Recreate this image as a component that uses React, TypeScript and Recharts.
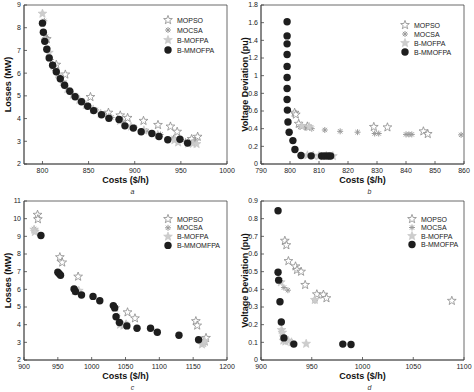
import React from 'react';
import { ScatterChart, Scatter, XAxis, YAxis, ReferenceArea, Legend, Label } from 'recharts';

// ---------- data: [cost, value] ----------
const aMOPSO = [[804.7, 7.5], [815, 6.37], [824.8, 5.94], [852, 4.95], [871.5, 4.26], [884.3, 4.14], [892.3, 4.03], [909.5, 3.9], [925.2, 3.72], [938.7, 3.65], [946, 3.42], [961.7, 3.1], [968.2, 3.2]];
const aMOCSA = [[802, 8.3], [804, 7.6], [806, 7.1], [809, 6.6], [813, 6.2], [818, 5.85], [823, 5.55], [829, 5.25], [836, 5.0], [843, 4.78], [850, 4.58], [858, 4.38], [866, 4.2], [875, 4.05], [887, 3.85], [900, 3.62], [913, 3.45], [928, 3.3], [942, 3.15], [955, 3.0], [962, 2.95], [966, 3.05]];
const aBMOFPA = [[800, 8.62], [803, 7.45], [807, 6.9], [812, 6.3], [817, 5.95], [822, 5.6], [827, 5.3], [833, 5.05], [840, 4.82], [847, 4.6], [855, 4.4], [863, 4.22], [872, 4.05], [884, 3.9], [896, 3.65], [910, 3.48], [925, 3.28], [943, 3.05], [947, 2.95], [958, 2.9], [963, 2.9], [967, 2.88]];
const aBMMOFPA = [[800, 8.2], [801, 7.8], [802.5, 7.4], [804.7, 7.05], [807.3, 6.67], [811, 6.35], [815, 6.06], [819.3, 5.75], [824, 5.47], [829.6, 5.2], [835.4, 4.96], [842.3, 4.74], [849, 4.54], [855.5, 4.35], [864, 4.17], [872, 4.01], [883, 3.96], [889.4, 3.68], [898.5, 3.58], [907, 3.42], [918.6, 3.34], [926.3, 3.21], [935.8, 3.07], [949, 3.09], [957.3, 2.92]];

const bMOPSO = [[801.6, 0.58], [802, 0.56], [803, 0.455], [806, 0.425], [828.9, 0.42], [833.6, 0.415], [846, 0.37], [847.5, 0.34]];
const bMOCSA = [[803.5, 0.42], [805.5, 0.41], [807.5, 0.4], [812, 0.385], [817.3, 0.37], [823.3, 0.36], [829.2, 0.345], [830.6, 0.345], [840, 0.335], [841, 0.335], [842, 0.335], [859, 0.33]];
const bBMOFPA = [[804, 0.43], [806.6, 0.42], [806, 0.098], [808, 0.095], [810, 0.09], [812.5, 0.092], [814.8, 0.09]];
const bBMMOFPA = [[799, 1.61], [799, 1.45], [799, 1.36], [799, 1.24], [799, 1.105], [799, 0.98], [799, 0.855], [799, 0.73], [799.1, 0.61], [799.3, 0.475], [799.7, 0.36], [801, 0.265], [801.7, 0.165], [803.8, 0.097], [807.3, 0.092], [810.9, 0.09], [812, 0.09], [813.1, 0.09], [814, 0.09]];

const cMOPSO = [[920, 10.22], [920.5, 9.97], [953, 7.82], [956.5, 7.52], [980, 6.72], [1053, 4.7], [1064, 4.36], [1154, 4.2], [1156, 3.95], [1167, 3.05], [1169, 3.25]];
const cMOCSA = [[915, 9.42], [917, 9.35], [978, 5.95], [1036, 5.0], [1038, 4.5], [1044, 4.0], [1050, 4.05], [1052, 3.95], [1165, 2.98]];
const cBMOFPA = [[915, 9.38], [916, 9.25], [975, 5.9], [981, 5.92], [1035, 4.95], [1042, 4.0], [1047, 3.95], [1051, 4.02], [1163, 2.88], [1165, 2.95], [1167, 3.05]];
const cBMMOFPA = [[925, 9.05], [950, 6.97], [952, 6.88], [954, 6.8], [974, 6.02], [976, 5.88], [985, 5.68], [1002, 5.6], [1012, 5.35], [1032, 5.08], [1034, 4.95], [1036, 4.45], [1041, 4.12], [1052, 3.93], [1067, 3.8], [1087, 3.8], [1097, 3.57], [1129, 3.4], [1158, 3.15]];

const dMOPSO = [[923.5, 0.675], [925, 0.65], [927, 0.56], [934, 0.53], [935.5, 0.51], [939.5, 0.5], [943.5, 0.425], [955, 0.372], [961.5, 0.37], [964.5, 0.35], [1088, 0.335]];
const dMOCSA = [[918.7, 0.45], [922.6, 0.41], [926.5, 0.395], [953.2, 0.335]];
const dBMOFPA = [[919.5, 0.44], [920.3, 0.17], [921, 0.155], [922, 0.11], [924, 0.105], [927, 0.108], [930, 0.1], [944.5, 0.092], [953, 0.34]];
const dBMMOFPA = [[916.8, 0.845], [916.8, 0.497], [917.4, 0.452], [918.7, 0.33], [920, 0.215], [922.6, 0.125], [932.3, 0.09], [980.6, 0.09], [988.7, 0.088]];

const aXTicks = [800, 850, 900, 950, 1000];
const aYTicks = [2, 3, 4, 5, 6, 7, 8, 9];
const bXTicks = [790, 800, 810, 820, 830, 840, 850, 860];
const bYTicks = [0, 0.2, 0.4, 0.6, 0.8, 1, 1.2, 1.4, 1.6, 1.8];
const cXTicks = [900, 950, 1000, 1050, 1100, 1150, 1200];
const cYTicks = [2, 3, 4, 5, 6, 7, 8, 9, 10, 11];
const dXTicks = [900, 950, 1000, 1050, 1100];
const dYTicks = [0, 0.1, 0.2, 0.3, 0.4, 0.5, 0.6, 0.7, 0.8, 0.9];

const FONT = '"Liberation Sans", Arial, Helvetica, sans-serif';

const toPts = (arr: number[][]) => arr.map(([x, y]) => ({ x, y }));

// ---------- marker shapes ----------
const starPath = (cx: number, cy: number, R: number, r: number) => {
  let d = '';
  for (let i = 0; i < 10; i++) {
    const ang = -Math.PI / 2 + (i * Math.PI) / 5;
    const rad = i % 2 === 0 ? R : r;
    d += (i === 0 ? 'M' : 'L') + (cx + rad * Math.cos(ang)).toFixed(2) + ',' + (cy + rad * Math.sin(ang)).toFixed(2);
  }
  return d + 'Z';
};
const HollowStar = ({ cx, cy }: any) => <path d={starPath(cx, cy, 4.6, 1.9)} fill="#fff" stroke="#8a8a8a" strokeWidth={0.8} />;
const GrayStar = ({ cx, cy }: any) => <path d={starPath(cx, cy, 4.6, 2.0)} fill="#cdcdcd" stroke="#c2c2c2" strokeWidth={0.6} />;
const Asterisk = ({ cx, cy }: any) => {
  const r = 3;
  const d = r * 0.707;
  return (
    <g stroke="#9a9a9a" strokeWidth={1}>
      <line x1={cx - r} y1={cy} x2={cx + r} y2={cy} />
      <line x1={cx} y1={cy - r} x2={cx} y2={cy + r} />
      <line x1={cx - d} y1={cy - d} x2={cx + d} y2={cy + d} />
      <line x1={cx - d} y1={cy + d} x2={cx + d} y2={cy - d} />
    </g>
  );
};
const Dot = ({ cx, cy }: any) => <circle cx={cx} cy={cy} r={3.7} fill="#1e1e1e" />;

const SHAPES = [HollowStar, Asterisk, GrayStar, Dot];

type PanelProps = {
  left: number;
  top: number;
  xDomain: [number, number];
  yDomain: [number, number];
  xTicks: number[];
  yTicks: number[];
  yLabel: string;
  letter: string;
  series: number[][][];
  names: string[];
  legend: { x: number; y: number; row: number };
};

function Panel(p: PanelProps) {
  const LegendBox = () => (
    <svg width={80} height={48} style={{ display: 'block', overflow: 'visible' }}>
      {p.names.map((n, i) => {
        const S = SHAPES[i];
        const y = 5 + i * p.legend.row;
        return (
          <g key={n}>
            <S cx={5} cy={y} />
            <text x={14} y={y + 2.5} fontSize={7} fontFamily={FONT} fill="#222">{n}</text>
          </g>
        );
      })}
    </svg>
  );
  const tickStyle = { fontSize: 7, fill: '#222', fontFamily: FONT };
  return (
    <div style={{ position: 'absolute', left: p.left, top: p.top, width: 237, height: 196 }}>
      <ScatterChart width={237} height={196} margin={{ top: 5, right: 10, bottom: 0, left: 0 }}>
        <XAxis
          type="number"
          dataKey="x"
          domain={p.xDomain}
          ticks={p.xTicks}
          interval={0}
          allowDataOverflow
          height={32}
          tickSize={-3}
          tickMargin={7}
          tick={tickStyle}
          axisLine={{ stroke: '#444', strokeWidth: 0.8 }}
          tickLine={{ stroke: '#444', strokeWidth: 0.8 }}
        >
          <Label
            content={({ viewBox }: any) => (
              <g>
                <text x={viewBox.x + viewBox.width / 2} y={viewBox.y + 19} textAnchor="middle" fontSize={9} fontWeight="bold" fontFamily={FONT} fill="#111">Costs ($/h)</text>
                <text x={viewBox.x + viewBox.width / 2 + 7} y={viewBox.y + 30} textAnchor="middle" fontSize={7} fontStyle="italic" fontFamily={FONT} fill="#333">{p.letter}</text>
              </g>
            )}
          />
        </XAxis>
        <YAxis
          type="number"
          dataKey="y"
          domain={p.yDomain}
          ticks={p.yTicks}
          interval={0}
          allowDataOverflow
          width={24}
          tickSize={-3}
          tickMargin={6}
          tick={tickStyle}
          axisLine={{ stroke: '#444', strokeWidth: 0.8 }}
          tickLine={{ stroke: '#444', strokeWidth: 0.8 }}
        >
          <Label
            content={({ viewBox }: any) => (
              <text
                transform={`translate(${viewBox.x + 11}, ${viewBox.y + viewBox.height / 2}) rotate(-90)`}
                textAnchor="middle"
                fontSize={9}
                fontWeight="bold"
                fontFamily={FONT}
                fill="#111"
              >
                {p.yLabel}
              </text>
            )}
          />
        </YAxis>
        <ReferenceArea x1={p.xDomain[0]} x2={p.xDomain[1]} y1={p.yDomain[0]} y2={p.yDomain[1]} fill="none" stroke="#444" strokeWidth={0.8} />
        {p.series.map((s, i) => {
          const S = SHAPES[i];
          return (
            <Scatter
              key={p.names[i]}
              name={p.names[i]}
              data={toPts(s)}
              isAnimationActive={false}
              shape={(sp: any) => <S cx={sp.cx} cy={sp.cy} />}
            />
          );
        })}
        <Legend
          layout="vertical"
          align="center"
          verticalAlign="middle"
          wrapperStyle={{ left: p.legend.x - 5, top: p.legend.y - 5, width: 80, height: 48 }}
          content={() => <LegendBox />}
        />
      </ScatterChart>
    </div>
  );
}

export default function App() {
  const names = ['MOPSO', 'MOCSA', 'B-MOFPA', 'B-MMOFPA'];
  const namesC = ['MOPSO', 'MOCSA', 'B-MOFPA', 'B-MMOMFPA'];
  return (
    <div style={{ position: 'absolute', left: 0, top: 0, width: 474, height: 392, background: '#fff', overflow: 'hidden' }}>
      <Panel left={0} top={0} xDomain={[780, 1000]} yDomain={[2, 9]} xTicks={aXTicks} yTicks={aYTicks} yLabel="Losses (MW)" letter="a"
        series={[aMOPSO, aMOCSA, aBMOFPA, aBMMOFPA]} names={names} legend={{ x: 168, y: 20, row: 10 }} />
      <Panel left={237} top={0} xDomain={[790, 860]} yDomain={[0, 1.8]} xTicks={bXTicks} yTicks={bYTicks} yLabel="Voltage Deviation (pu)" letter="b"
        series={[bMOPSO, bMOCSA, bBMOFPA, bBMMOFPA]} names={names} legend={{ x: 168, y: 25, row: 9 }} />
      <Panel left={0} top={196} xDomain={[900, 1200]} yDomain={[2, 11]} xTicks={cXTicks} yTicks={cYTicks} yLabel="Losses (MW)" letter="c"
        series={[cMOPSO, cMOCSA, cBMOFPA, cBMMOFPA]} names={namesC} legend={{ x: 168, y: 23, row: 8.8 }} />
      <Panel left={237} top={196} xDomain={[900, 1100]} yDomain={[0, 0.9]} xTicks={dXTicks} yTicks={dYTicks} yLabel="Voltage Deviation (pu)" letter="d"
        series={[dMOPSO, dMOCSA, dBMOFPA, dBMMOFPA]} names={names} legend={{ x: 175, y: 23, row: 8.5 }} />
    </div>
  );
}
